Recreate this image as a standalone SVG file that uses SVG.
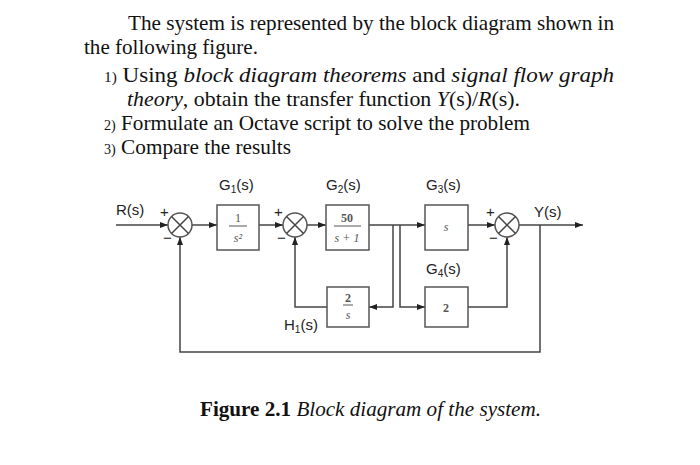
<svg xmlns="http://www.w3.org/2000/svg" width="700" height="465" viewBox="0 0 700 465">
<style>
.t{font-family:"Liberation Serif",serif;font-size:21px;fill:#111}
.s{font-family:"Liberation Sans",sans-serif;font-size:15px;fill:#222}
.m{font-family:"Liberation Serif",serif;font-size:12px;fill:#555}
.b{fill:#fff;stroke:#555;stroke-width:1.5}
.l{fill:none;stroke:#444;stroke-width:1.5}
</style>
<defs><marker id="a" markerWidth="8" markerHeight="6" refX="8" refY="3" orient="auto" markerUnits="userSpaceOnUse"><path d="M0,0L8,3L0,6z" fill="#222"/></marker></defs>
<rect width="700" height="465" fill="#fff"/>
<text class="t" x="128" y="30" textLength="486" lengthAdjust="spacingAndGlyphs">The system is represented by the block diagram shown in</text>
<text class="t" x="84" y="54" textLength="174" lengthAdjust="spacingAndGlyphs">the following figure.</text>
<text class="t" x="104" y="82" textLength="510" lengthAdjust="spacingAndGlyphs"><tspan font-size="14">1)</tspan> Using <tspan font-style="italic">block diagram theorems</tspan> and <tspan font-style="italic">signal flow graph</tspan></text>
<text class="t" x="127" y="106" textLength="393" lengthAdjust="spacingAndGlyphs"><tspan font-style="italic">theory</tspan>, obtain the transfer function <tspan font-style="italic">Y</tspan>(s)/<tspan font-style="italic">R</tspan>(s).</text>
<text class="t" x="104" y="130" textLength="426" lengthAdjust="spacingAndGlyphs"><tspan font-size="14">2)</tspan> Formulate an Octave script to solve the problem</text>
<text class="t" x="104" y="154" textLength="187" lengthAdjust="spacingAndGlyphs"><tspan font-size="14">3)</tspan> Compare the results</text>
<g id="connectors" class="l">
<path d="M116,225H168" marker-end="url(#a)"/>
<path d="M192,225H217" marker-end="url(#a)"/>
<path d="M259,225H283" marker-end="url(#a)"/>
<path d="M307,225H326" marker-end="url(#a)"/>
<path d="M369,225H425" marker-end="url(#a)"/>
<path d="M468,225H495" marker-end="url(#a)"/>
<path d="M519,225H583" marker-end="url(#a)"/>
<path d="M393,225V307H369" marker-end="url(#a)"/>
<path d="M327,307H295V237" marker-end="url(#a)"/>
<path d="M400,225V307H425" marker-end="url(#a)"/>
<path d="M468,307H507V237" marker-end="url(#a)"/>
<path d="M540,225V352H180V237" marker-end="url(#a)"/>
</g>
<g id="sum1"><circle class="b" cx="180" cy="225" r="12"/><path class="l" d="M171.5,216.5l17,17M188.5,216.5l-17,17"/><text class="s" x="160" y="217" font-size="11">+</text><text class="s" x="163" y="243" font-size="11">−</text><text class="s" x="116" y="215">R(s)</text></g>
<g id="G1"><rect class="b" x="217" y="205" width="42" height="45"/><text class="m" x="238" y="222" text-anchor="middle">1</text><path d="M229,226H247" stroke="#555"/><text class="m" x="238" y="242" text-anchor="middle" font-style="italic">s²</text><text class="s" x="219" y="190">G<tspan font-size="10" dy="3">1</tspan><tspan dy="-3">(s)</tspan></text></g>
<g id="sum2"><circle class="b" cx="295" cy="225" r="12"/><path class="l" d="M286.5,216.5l17,17M303.5,216.5l-17,17"/><text class="s" x="274" y="217" font-size="11">+</text><text class="s" x="277" y="243" font-size="11">−</text></g>
<g id="G2"><rect class="b" x="326" y="205" width="43" height="45"/><text class="m" x="347" y="222" text-anchor="middle" font-weight="bold">50</text><path d="M334,226H361" stroke="#555"/><text class="m" x="347" y="242" text-anchor="middle" font-style="italic">s + 1</text><text class="s" x="326" y="190">G<tspan font-size="10" dy="3">2</tspan><tspan dy="-3">(s)</tspan></text></g>
<g id="G3"><rect class="b" x="425" y="205" width="43" height="45"/><text class="m" x="446" y="231" text-anchor="middle" font-style="italic">s</text><text class="s" x="426" y="190">G<tspan font-size="10" dy="3">3</tspan><tspan dy="-3">(s)</tspan></text></g>
<g id="sum3"><circle class="b" cx="507" cy="225" r="12"/><path class="l" d="M498.5,216.5l17,17M515.5,216.5l-17,17"/><text class="s" x="486" y="217" font-size="11">+</text><text class="s" x="489" y="243" font-size="11">−</text><text class="s" x="534" y="217">Y(s)</text></g>
<g id="H1"><rect class="b" x="327" y="287" width="42" height="40"/><text class="m" x="348" y="302" text-anchor="middle" font-weight="bold">2</text><path d="M343,305H353" stroke="#555"/><text class="m" x="348" y="319" text-anchor="middle" font-style="italic">s</text><text class="s" x="284" y="330">H<tspan font-size="10" dy="3">1</tspan><tspan dy="-3">(s)</tspan></text></g>
<g id="G4"><rect class="b" x="425" y="287" width="43" height="40"/><text class="m" x="446" y="312" text-anchor="middle" font-weight="bold">2</text><text class="s" x="426" y="274">G<tspan font-size="10" dy="3">4</tspan><tspan dy="-3">(s)</tspan></text></g>
<text class="t" x="200" y="416" font-size="18" textLength="341" lengthAdjust="spacingAndGlyphs"><tspan font-weight="bold">Figure 2.1</tspan> <tspan font-style="italic">Block diagram of the system.</tspan></text>
</svg>
